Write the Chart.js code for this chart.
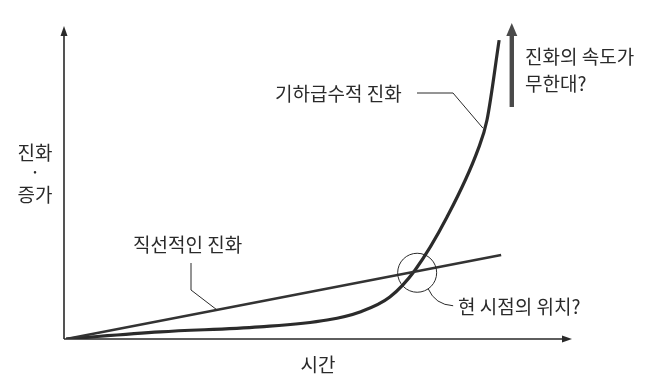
<!DOCTYPE html>
<html>
<head>
<meta charset="utf-8">
<script src="https://cdn.jsdelivr.net/npm/chart.js@4"></script>
<style>
  body { margin: 0; background: #fff; }
  #chart { display: block; }
</style>
</head>
<body>
<canvas id="chart" width="650" height="382"></canvas>
<script>
// 시간 (x) values and the two evolution curves
const linearX = [0, 86];
const linearY = [0, 27];
const expX = [0, 18.6, 38.3, 51.6, 58.1, 64.0, 69.0, 75.3, 81.4, 83.2, 85.6];
const expY = [0, 2.3, 3.9, 6.1, 8.7, 13.5, 22.2, 39.2, 60.8, 70.4, 96.1];

const xLabel = '시간';
const yLabel = ['진화', '·', '증가'];
const linearLabel = '직선적인 진화';
const expLabel = '기하급수적 진화';
const speedLabel = ['진화의 속도가', '무한대?'];
const nowLabel = '현 시점의 위치?';

const FONT = '"Noto Sans CJK KR", "Noto Sans", sans-serif';
const INK = '#2a2a2a';

function toPoints(xs, ys) {
  return xs.map((x, i) => ({ x: x, y: ys[i] }));
}

function arrowHead(ctx, x, y, dir, len, half) {
  ctx.beginPath();
  if (dir === 'up') {
    ctx.moveTo(x, y);
    ctx.lineTo(x - half, y + len);
    ctx.lineTo(x + half, y + len);
  } else {
    ctx.moveTo(x, y);
    ctx.lineTo(x - len, y - half);
    ctx.lineTo(x - len, y + half);
  }
  ctx.closePath();
  ctx.fill();
}

const decorations = {
  id: 'decorations',
  beforeDatasetsDraw(chart) {
    const { ctx, chartArea: a } = chart;
    ctx.save();
    ctx.strokeStyle = INK;
    ctx.fillStyle = INK;
    ctx.lineWidth = 1.6;
    // axes
    ctx.beginPath();
    ctx.moveTo(a.left - 2, a.bottom);
    ctx.lineTo(a.left - 2, a.top + 6);
    ctx.moveTo(a.left - 2, a.bottom);
    ctx.lineTo(a.right - 6, a.bottom);
    ctx.stroke();
    arrowHead(ctx, a.left - 2, a.top - 2, 'up', 10, 3.5);
    arrowHead(ctx, a.right, a.bottom, 'right', 10, 3.5);
    ctx.restore();
  },
  afterDatasetsDraw(chart) {
    const { ctx, chartArea: a, scales } = chart;
    const px = v => scales.x.getPixelForValue(v);
    const py = v => scales.y.getPixelForValue(v);
    ctx.save();
    ctx.fillStyle = INK;
    ctx.strokeStyle = INK;
    ctx.font = '19px ' + FONT;
    ctx.textBaseline = 'middle';

    // axis labels
    ctx.textAlign = 'center';
    ctx.fillText(xLabel, (a.left + a.right) / 2 - 1, 365);
    ctx.fillText(yLabel[0], 35, 153);
    ctx.fillText(yLabel[1], 35, 172);
    ctx.fillText(yLabel[2], 35, 195);

    // exponential label + leader
    ctx.textAlign = 'left';
    ctx.fillText(expLabel, 275, 94);
    ctx.lineWidth = 1;
    ctx.beginPath();
    ctx.moveTo(417, 93);
    ctx.lineTo(453, 93);
    ctx.lineTo(px(82.4), py(67.8));
    ctx.stroke();

    // linear label + leader
    ctx.fillText(linearLabel, 133, 245);
    ctx.beginPath();
    ctx.moveTo(191, 263);
    ctx.lineTo(191, 290);
    ctx.lineTo(px(29.8), py(9.4));
    ctx.stroke();

    // circle around intersection
    const cx = px(69.4), cy = py(21.3);
    ctx.beginPath();
    ctx.arc(cx, cy, 19.5, 0, Math.PI * 2);
    ctx.stroke();
    ctx.beginPath();
    ctx.moveTo(cx + 11, cy + 16);
    ctx.quadraticCurveTo(cx + 18, cy + 32, cx + 36, cy + 33);
    ctx.stroke();
    ctx.fillText(nowLabel, 458, 307);

    // speed arrow
    const ax = px(88.1);
    ctx.fillStyle = '#4a4a4a';
    ctx.fillRect(ax - 2.2, py(98), 4.4, py(74.6) - py(98));
    arrowHead(ctx, ax, py(101.6), 'up', 13, 5.5);
    ctx.fillStyle = INK;
    ctx.fillText(speedLabel[0], 525, 57);
    ctx.fillText(speedLabel[1], 525, 84);
    ctx.restore();
  }
};

new Chart(document.getElementById('chart'), {
  type: 'line',
  data: {
    datasets: [
      {
        label: linearLabel,
        data: toPoints(linearX, linearY),
        borderColor: '#333',
        borderWidth: 2.6,
        pointRadius: 0
      },
      {
        label: expLabel,
        data: toPoints(expX, expY),
        borderColor: '#2b2b2b',
        borderWidth: 3.2,
        pointRadius: 0,
        cubicInterpolationMode: 'monotone'
      }
    ]
  },
  options: {
    responsive: false,
    animation: false,
    layout: { padding: { left: 66, right: 78, top: 28, bottom: 43 } },
    plugins: { legend: { display: false }, tooltip: { enabled: false } },
    scales: {
      x: { type: 'linear', min: 0, max: 100, display: false },
      y: { min: 0, max: 100, display: false }
    }
  },
  plugins: [decorations]
});
</script>
</body>
</html>
